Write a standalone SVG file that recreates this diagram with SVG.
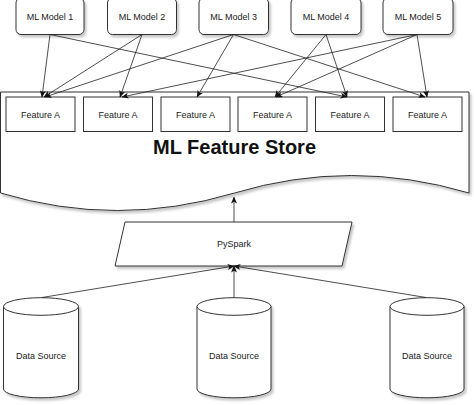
<svg xmlns="http://www.w3.org/2000/svg" width="474" height="405" viewBox="0 0 474 405">
<style>
.box{fill:#fff;stroke:#333;stroke-width:1}
.t{font-family:"Liberation Sans",Arial,sans-serif;font-size:9px;fill:#222;text-anchor:middle;dominant-baseline:central}
.title{font-family:"Liberation Sans",Arial,sans-serif;font-size:20px;font-weight:bold;fill:#111;text-anchor:middle}
.c{fill:none;stroke:#222;stroke-width:0.8;marker-end:url(#arr)}
</style>
<defs>
<marker id="arr" viewBox="0 0 8 7" refX="7.5" refY="3.5" markerWidth="7" markerHeight="6" markerUnits="userSpaceOnUse" orient="auto">
<path d="M0,0 L8,3.5 L0,7 L2,3.5 Z" fill="#111"/>
</marker>
<filter id="sh" x="-10%" y="-10%" width="130%" height="140%">
<feDropShadow dx="2" dy="2.5" stdDeviation="1" flood-color="#000" flood-opacity="0.22"/>
</filter>
</defs>

<g id="store">
<path class="box" filter="url(#sh)" d="M0.5,92 H469 V193 Q351,158 234.5,193 Q117,228 0.5,193 Z"/>
<text class="title" x="234.5" y="154">ML Feature Store</text>
</g>

<g id="model1"><rect class="box" filter="url(#sh)" x="16" y="-2" width="68" height="36.5" rx="5"/><text class="t" x="50" y="17">ML Model 1</text></g>
<g id="model2"><rect class="box" filter="url(#sh)" x="107.5" y="-2" width="69" height="36.5" rx="5"/><text class="t" x="142" y="17">ML Model 2</text></g>
<g id="model3"><rect class="box" filter="url(#sh)" x="199" y="-2" width="69.5" height="36.5" rx="5"/><text class="t" x="233.7" y="17">ML Model 3</text></g>
<g id="model4"><rect class="box" filter="url(#sh)" x="291" y="-2" width="70" height="36.5" rx="5"/><text class="t" x="326" y="17">ML Model 4</text></g>
<g id="model5"><rect class="box" filter="url(#sh)" x="383" y="-2" width="70" height="36.5" rx="5"/><text class="t" x="418" y="17">ML Model 5</text></g>

<g id="feature1"><rect class="box" x="6" y="97" width="69" height="34.5"/><text class="t" x="40.5" y="114.5">Feature A</text></g>
<g id="feature2"><rect class="box" x="83.5" y="97" width="69" height="34.5"/><text class="t" x="118" y="114.5">Feature A</text></g>
<g id="feature3"><rect class="box" x="161" y="97" width="69" height="34.5"/><text class="t" x="195.5" y="114.5">Feature A</text></g>
<g id="feature4"><rect class="box" x="238" y="97" width="69" height="34.5"/><text class="t" x="272.5" y="114.5">Feature A</text></g>
<g id="feature5"><rect class="box" x="315.5" y="97" width="69" height="34.5"/><text class="t" x="350" y="114.5">Feature A</text></g>
<g id="feature6"><rect class="box" x="393" y="97" width="69" height="34.5"/><text class="t" x="427.5" y="114.5">Feature A</text></g>

<g id="pyspark">
<polygon class="box" filter="url(#sh)" points="125,222 352,222 342,266 115,266"/>
<text class="t" x="234" y="244">PySpark</text>
</g>

<g id="source1">
<path class="box" filter="url(#sh)" d="M3.5,306.5 A37.5,8.8 0 0 1 78.5,306.5 V389 A37.5,8.8 0 0 1 3.5,389 Z"/>
<path class="box" fill="none" d="M3.5,306.5 A37.5,8.8 0 0 0 78.5,306.5"/>
<text class="t" x="41" y="355.5">Data Source</text>
</g>
<g id="source2">
<path class="box" filter="url(#sh)" d="M197,306.5 A37,8.8 0 0 1 271,306.5 V389 A37,8.8 0 0 1 197,389 Z"/>
<path class="box" fill="none" d="M197,306.5 A37,8.8 0 0 0 271,306.5"/>
<text class="t" x="234" y="355.5">Data Source</text>
</g>
<g id="source3">
<path class="box" filter="url(#sh)" d="M390,306.5 A37,8.8 0 0 1 464,306.5 V389 A37,8.8 0 0 1 390,389 Z"/>
<path class="box" fill="none" d="M390,306.5 A37,8.8 0 0 0 464,306.5"/>
<text class="t" x="427" y="355.5">Data Source</text>
</g>

<g id="connectors">
<line class="c" x1="50" y1="34.5" x2="42" y2="97"/>
<line class="c" x1="50" y1="34.5" x2="347" y2="97"/>
<line class="c" x1="142" y1="34.5" x2="44" y2="97"/>
<line class="c" x1="142" y1="34.5" x2="120" y2="97"/>
<line class="c" x1="233.5" y1="34.5" x2="45" y2="97"/>
<line class="c" x1="233.5" y1="34.5" x2="197" y2="97"/>
<line class="c" x1="233.5" y1="34.5" x2="425" y2="97"/>
<line class="c" x1="326" y1="34.5" x2="275" y2="97"/>
<line class="c" x1="326" y1="34.5" x2="347" y2="97"/>
<line class="c" x1="417" y1="34.5" x2="122" y2="97"/>
<line class="c" x1="417" y1="34.5" x2="276" y2="97"/>
<line class="c" x1="417" y1="34.5" x2="427" y2="97"/>
<line class="c" x1="234" y1="222" x2="234" y2="197"/>
<line class="c" x1="42" y1="297.5" x2="234" y2="266"/>
<line class="c" x1="234" y1="297.5" x2="234" y2="266"/>
<line class="c" x1="426" y1="297.5" x2="234" y2="266"/>
</g>
</svg>
